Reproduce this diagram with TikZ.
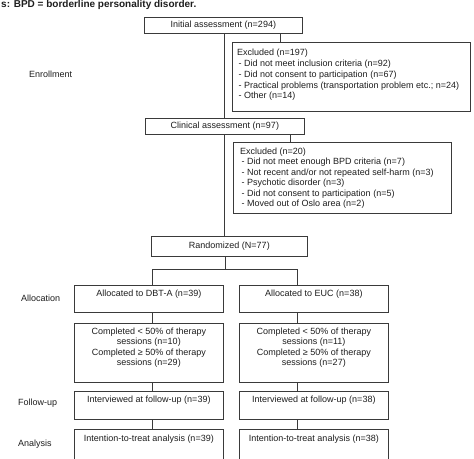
\documentclass[tikz,border=0pt]{standalone}
\usepackage{fontspec}
\setmainfont{Liberation Sans}
\definecolor{linegray}{HTML}{3A3A3A}
\definecolor{textgray}{HTML}{1E1E1E}
\begin{document}
\begin{tikzpicture}[x=1pt,y=-1pt,
  box/.style={draw=linegray, line width=0.75pt, rectangle, inner sep=0pt, anchor=north west},
  txt/.style={font=\fontsize{9}{10.5}\selectfont, text=textgray, inner sep=0pt},
  lbl/.style={font=\fontsize{9}{10.5}\selectfont, text=textgray, inner sep=0pt, anchor=west},
  conn/.style={draw=linegray, line width=0.75pt}]
\useasboundingbox (0,0) rectangle (474,458);
\fill[white] (0,0) rectangle (474,458);

% caption
\node[font=\bfseries\fontsize{10}{12}\selectfont, text=textgray, inner sep=0pt, anchor=base west] (cap) at (1,7.6) {s: BPD = borderline personality disorder.};

% stage labels
\node[lbl] (lenr) at (29,74) {Enrollment};
\node[lbl] (lall) at (21,298) {Allocation};
\node[lbl] (lfol) at (18,403.5) {Follow-up};
\node[lbl] (lana) at (18,444.5) {Analysis};

% boxes
\node[box, minimum width=158pt, minimum height=16pt] (init) at (144,17) {};
\node[txt] (initT) at (init.center) {Initial assessment (n=294)};

\node[box, minimum width=238pt, minimum height=69pt] (ex1) at (232,42) {};
\node[txt, anchor=north west, align=left, font=\fontsize{9}{10.8}\selectfont] (ex1T) at (237,49) {Excluded (n=197)\\
\hspace{1.5pt}- Did not meet inclusion criteria (n=92)\\
\hspace{1.5pt}- Did not consent to participation (n=67)\\
\hspace{1.5pt}- Practical problems (transportation problem etc.; n=24)\\
\hspace{1.5pt}- Other (n=14)};

\node[box, minimum width=159pt, minimum height=16pt] (clin) at (145,118) {};
\node[txt] (clinT) at (clin.center) {Clinical assessment (n=97)};

\node[box, minimum width=218pt, minimum height=71pt] (ex2) at (233,142) {};
\node[txt, anchor=north west, align=left, font=\fontsize{9}{10.5}\selectfont] (ex2T) at (240,147.5) {Excluded (n=20)\\
\hspace{1.5pt}- Did not meet enough BPD criteria (n=7)\\
\hspace{1.5pt}- Not recent and/or not repeated self-harm (n=3)\\
\hspace{1.5pt}- Psychotic disorder (n=3)\\
\hspace{1.5pt}- Did not consent to participation (n=5)\\
\hspace{1.5pt}- Moved out of Oslo area (n=2)};

\node[box, minimum width=156pt, minimum height=20pt] (rand) at (151,236) {};
\node[txt] (randT) at (rand.center) {Randomized (N=77)};

\node[box, minimum width=149pt, minimum height=27pt] (allL) at (74,285) {};
\node[txt, anchor=north] (allLT) at ([yshift=-4.5pt]allL.north) {Allocated to DBT-A (n=39)};
\node[box, minimum width=149pt, minimum height=27pt] (allR) at (239,285) {};
\node[txt, anchor=north] (allRT) at ([yshift=-4.5pt]allR.north) {Allocated to EUC (n=38)};

\node[box, minimum width=149pt, minimum height=59pt] (comL) at (74,323) {};
\node[txt, anchor=north, align=center] (comLT) at ([yshift=-4.5pt]comL.north) {Completed < 50\% of therapy\\sessions (n=10)\\Completed ≥ 50\% of therapy\\sessions (n=29)};
\node[box, minimum width=149pt, minimum height=59pt] (comR) at (239,323) {};
\node[txt, anchor=north, align=center] (comRT) at ([yshift=-4.5pt]comR.north) {Completed < 50\% of therapy\\sessions (n=11)\\Completed ≥ 50\% of therapy\\sessions (n=27)};

\node[box, minimum width=149pt, minimum height=28pt] (folL) at (74,391) {};
\node[txt, anchor=north] (folLT) at ([yshift=-5pt]folL.north) {Interviewed at follow-up (n=39)};
\node[box, minimum width=149pt, minimum height=28pt] (folR) at (239,391) {};
\node[txt, anchor=north] (folRT) at ([yshift=-5pt]folR.north) {Interviewed at follow-up (n=38)};

\node[box, minimum width=149pt, minimum height=36pt] (anaL) at (74,429) {};
\node[txt, anchor=north] (anaLT) at ([yshift=-5.5pt]anaL.north) {Intention-to-treat analysis (n=39)};
\node[box, minimum width=149pt, minimum height=36pt] (anaR) at (239,429) {};
\node[txt, anchor=north] (anaRT) at ([yshift=-5.5pt]anaR.north) {Intention-to-treat analysis (n=38)};

% connector x positions
\coordinate (xm) at (224.5,0);
\coordinate (xe1) at (280,0);
\coordinate (xe2) at (290,0);
\coordinate (xl) at (152.5,0);
\coordinate (xr) at (297.5,0);
\coordinate (split) at (225,269);

% connectors
\draw[conn] (init.south -| xm) -- (clin.north -| xm);
\draw[conn] (init.south -| xe1) -- (ex1.north -| xe1);
\draw[conn] (clin.south -| xm) -- (rand.north -| xm);
\draw[conn] (clin.south -| xe2) -- (ex2.north -| xe2);
\draw[conn] (rand.south -| split) -- (split);
\draw[conn] (allL.north -| xl) -- (xl |- split) -- (xr |- split) -- (allR.north -| xr);
\draw[conn] (allL.south -| xl) -- (comL.north -| xl);
\draw[conn] (allR.south -| xr) -- (comR.north -| xr);
\draw[conn] (comL.south -| xl) -- (folL.north -| xl);
\draw[conn] (comR.south -| xr) -- (folR.north -| xr);
\draw[conn] (folL.south -| xl) -- (anaL.north -| xl);
\draw[conn] (folR.south -| xr) -- (anaR.north -| xr);
\end{tikzpicture}
\end{document}
